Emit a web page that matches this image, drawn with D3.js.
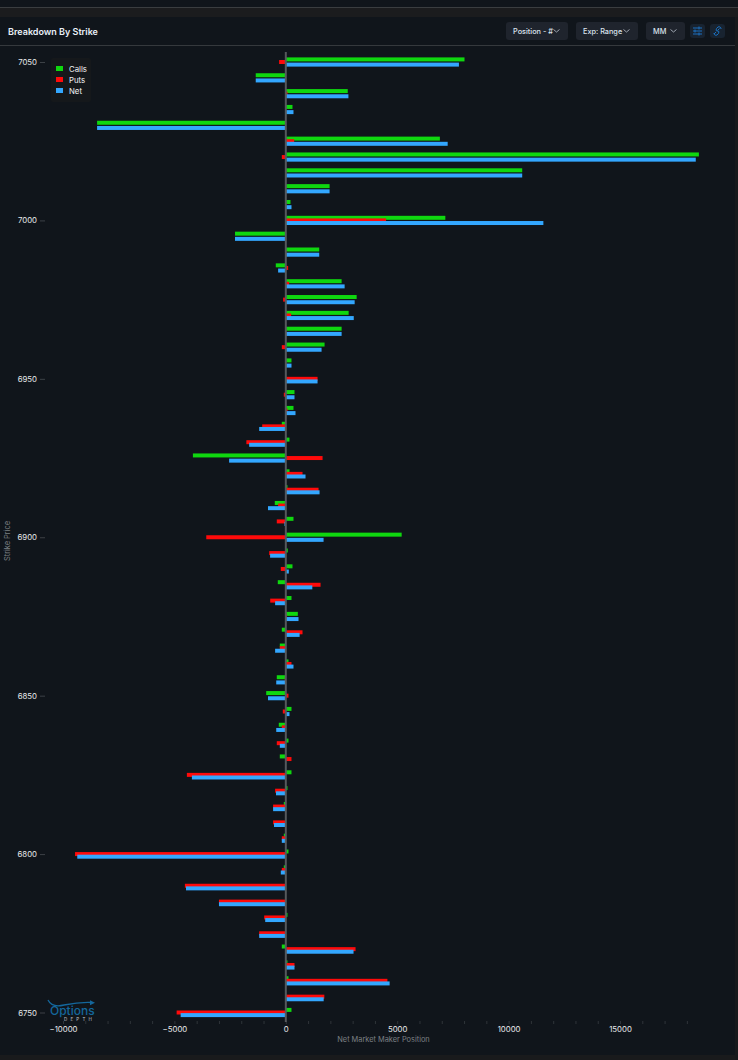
<!DOCTYPE html>
<html>
<head>
<meta charset="utf-8">
<script src="https://cdn.jsdelivr.net/npm/d3@7/dist/d3.min.js"></script>
<style>
  html, body { margin: 0; padding: 0; background: #10151b; }
  svg { display: block; font-family: Inter, Roboto, sans-serif; }
</style>
</head>
<body>
<svg id="chart" width="738" height="1060"></svg>
<script>
// Strikes run top to bottom; position values are contracts held by market makers.
const strikes = d3.range(7050, 6745, -5);
const calls = [8020,-1350,2780,300,-8470,6915,18540,10610,1965,210,7160,-2280,1500,-450,2505,3180,2820,2505,1740,255,
  0,390,345,-180,165,-4170,165,75,-495,345,5200,90,300,-360,255,540,-180,-270,120,-405,-880,255,-315,120,-270,255,
  75,-90,0,-90,120,-90,0,0,75,0,-180,75,120,0,255];
const puts = [-300,0,75,0,-30,375,-180,0,0,0,4500,0,0,105,150,-120,240,0,-180,0,
  1425,-90,75,-1060,-1770,1650,750,1470,-345,-405,-3570,-745,-225,1560,-700,45,750,-270,255,-45,120,-135,-180,-405,255,-4440,
  -480,-570,-570,-180,-9460,-180,-4530,-3000,-970,-1195,3130,390,4560,1730,-4900];
const nets = [7770,-1350,2810,345,-8470,7265,18400,10610,1965,255,11560,-2280,1500,-345,2640,3090,3050,2505,1605,255,
  1425,390,435,-1195,-1645,-2545,885,1515,-800,-60,1695,-705,135,1190,-480,570,620,-480,345,-430,-800,165,-430,-270,-15,-4215,
  -440,-570,-530,-180,-9360,-225,-4480,-3000,-925,-1195,3040,390,4660,1700,-4720];
const seriesNames = ["Calls", "Puts", "Net"];
const seriesValues = [calls, puts, nets];
const seriesColors = ["#0fd70f", "#ff0a0a", "#33a7ff"];
const xMajorTicks = [-10000, -5000, 0, 5000, 10000, 15000];
const yLabelTicks = [7050, 7000, 6950, 6900, 6850, 6800, 6750];
const controls = [
  { label: "Position - #", x: 506, w: 62 },
  { label: "Exp: Range", x: 576, w: 62 },
  { label: "MM", x: 646, w: 39 }
];

const svg = d3.select("#chart");

// Page chrome around the panel
svg.append("rect").attr("width", 738).attr("height", 1060).attr("fill", "#10151b");
svg.append("rect").attr("y", 7).attr("width", 738).attr("height", 1).attr("fill", "#3a3d40");
svg.append("rect").attr("y", 8).attr("width", 738).attr("height", 9).attr("fill", "#1b1c1e");
svg.append("rect").attr("y", 1055).attr("width", 738).attr("height", 5).attr("fill", "#191a1c");
svg.append("rect").attr("x", 735).attr("y", 17).attr("width", 3).attr("height", 1043).attr("fill", "#17191c");
svg.append("rect").attr("y", 45).attr("width", 735).attr("height", 1).attr("fill", "#35393d");

svg.append("text").attr("x", 8).attr("y", 35)
  .attr("fill", "#e9f0f8").attr("font-size", 9).attr("font-weight", 600)
  .text("Breakdown By Strike");

// Header dropdowns
const ctl = svg.append("g").selectAll("g").data(controls).join("g")
  .attr("transform", d => `translate(${d.x},22)`);
ctl.append("rect").attr("width", d => d.w).attr("height", 18).attr("rx", 3).attr("fill", "#1f242d");
ctl.append("text").attr("x", 7).attr("y", 11.5).attr("fill", "#dbe3ee")
  .attr("font-size", 7.3).attr("font-weight", 500).text(d => d.label);
ctl.append("path").attr("d", d => `M${d.w - 14.5},7.5l3,2.5l3,-2.5`)
  .attr("fill", "none").attr("stroke", "#aab2bd").attr("stroke-width", 0.9);

// Header icon buttons
const iconBox = svg.append("g");
[690, 710].forEach(x => iconBox.append("rect")
  .attr("x", x).attr("y", 24).attr("width", 15).attr("height", 14).attr("rx", 3).attr("fill", "#182330"));
iconBox.append("path").attr("d", "M693,28h9M693,31h9M693,34h9M699,26.5v3M695,29.5v3M699,32.5v3")
  .attr("stroke", "#1a70c0").attr("stroke-width", 1).attr("fill", "none");
iconBox.append("path").attr("d", "M714,34l2,-2M719.5,28.5l-2,2M714,33a2,2 0 0 0 3,2l1.5,-1.5a2,2 0 0 0 -1,-3M721,29a2,2 0 0 0 -3,-2l-1.5,1.5a2,2 0 0 0 1,3")
  .attr("stroke", "#1a70c0").attr("stroke-width", 1).attr("fill", "none");

// Scales
const x = d3.scaleLinear().domain([-10000, 18500]).range([63, 698]);
const y = d3.scaleLinear().domain([7050, 6750]).range([62, 1012.5]);
const offset = d3.scalePoint().domain(seriesNames).range([-2.6, 2.6]);
const barH = 4;

// Axes: every thousand on x, only the labelled strikes on y
const xAxis = d3.axisBottom(x)
  .tickValues(d3.range(-10000, 18001, 1000))
  .tickSize(3).tickPadding(2)
  .tickFormat(d => xMajorTicks.includes(d) ? d3.format("d")(d) : "");
const gx = svg.append("g").attr("transform", "translate(0,1021)").call(xAxis);
gx.select(".domain").remove();
gx.selectAll("line").attr("stroke", "#2f3439");
gx.selectAll("text").attr("fill", "#e6e8ea").attr("font-size", 7.8)
  .attr("font-family", "Inter, Roboto, sans-serif");

const yAxis = d3.axisLeft(y).tickValues(yLabelTicks).tickSize(5).tickPadding(3).tickFormat(d3.format("d"));
const gy = svg.append("g").attr("transform", "translate(45,0)").call(yAxis);
gy.select(".domain").remove();
gy.selectAll("line").attr("stroke", "#3c4146");
gy.selectAll("text").attr("fill", "#e6e8ea").attr("font-size", 7.8)
  .attr("font-family", "Inter, Roboto, sans-serif");

// Bars: one layer per series so later series sit on top of earlier ones
seriesNames.forEach((name, i) => {
  svg.append("g").selectAll("rect").data(seriesValues[i]).join("rect")
    .attr("x", d => Math.min(x(0), x(d)))
    .attr("width", d => Math.abs(x(d) - x(0)))
    .attr("y", (d, k) => y(strikes[k]) + offset(name) - barH / 2)
    .attr("height", barH)
    .attr("fill", seriesColors[i]);
});

// Zero line
svg.append("line").attr("x1", x(0)).attr("x2", x(0)).attr("y1", 52).attr("y2", 1022)
  .attr("stroke", "#55595d").attr("stroke-width", 2);

// Axis titles
svg.append("text").attr("x", 383.5).attr("y", 1041.5).attr("text-anchor", "middle")
  .attr("fill", "#7c8084").attr("font-size", 7.4).text("Net Market Maker Position");
svg.append("text").attr("transform", "translate(10,541) rotate(-90)").attr("text-anchor", "middle")
  .attr("fill", "#7c8084").attr("font-size", 7.4).text("Strike Price");

// Legend
svg.append("rect").attr("x", 51).attr("y", 58).attr("width", 40).attr("height", 44).attr("rx", 2).attr("fill", "#15181b");
const legend = svg.append("g").selectAll("g").data(seriesNames).join("g")
  .attr("transform", (d, i) => `translate(56,${66 + i * 11})`);
legend.append("rect").attr("width", 7).attr("height", 5).attr("fill", (d, i) => seriesColors[i]);
legend.append("text").attr("x", 13).attr("y", 5.5).attr("fill", "#f0f2f4").attr("font-size", 7.8).text(d => d);

// Brand mark
const brand = svg.append("g");
brand.append("path").attr("d", "M48,1000c3,6 8,7 16,5c10,-2 18,-3 28,-2.5")
  .attr("fill", "none").attr("stroke", "#14679c").attr("stroke-width", 1.3);
brand.append("path").attr("d", "M90,1000.2l5,2.5l-5,2.5z").attr("fill", "#14679c");
brand.append("text").attr("x", 50).attr("y", 1014.5).attr("fill", "#14679c")
  .attr("font-size", 12).attr("font-weight", 500).text("Options");
brand.append("text").attr("x", 64).attr("y", 1021).attr("fill", "#c4c8cc")
  .attr("font-size", 4.5).attr("letter-spacing", 3.2).text("DEPTH");
</script>
</body>
</html>
